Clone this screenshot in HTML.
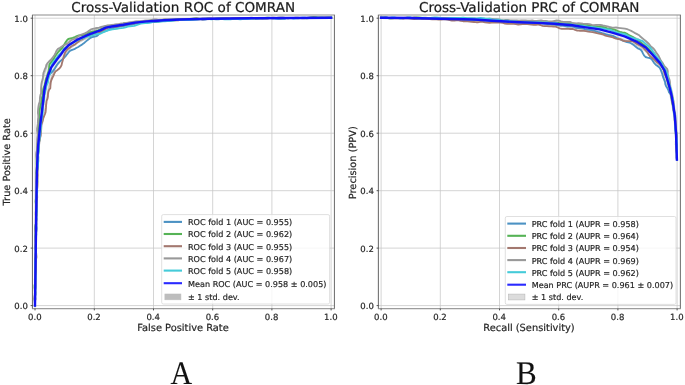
<!DOCTYPE html>
<html><head><meta charset="utf-8"><title>Cross-Validation ROC and PRC of COMRAN</title>
<style>html,body{margin:0;padding:0;background:#fff;}svg{display:block;}text{text-rendering:geometricPrecision;stroke:#262626;stroke-width:0.19px;}</style></head>
<body>
<svg width="685" height="385" viewBox="0 0 685 385">
<rect width="685" height="385" fill="#fff"/>
<line x1="35.0" y1="15.0" x2="35.0" y2="308.6" stroke="#c6c6c6" stroke-width="0.75"/>
<line x1="32.45" y1="305.6" x2="334.45" y2="305.6" stroke="#c6c6c6" stroke-width="0.75"/>
<line x1="94.3" y1="15.0" x2="94.3" y2="308.6" stroke="#c6c6c6" stroke-width="0.75"/>
<line x1="32.45" y1="248.1" x2="334.45" y2="248.1" stroke="#c6c6c6" stroke-width="0.75"/>
<line x1="153.5" y1="15.0" x2="153.5" y2="308.6" stroke="#c6c6c6" stroke-width="0.75"/>
<line x1="32.45" y1="190.7" x2="334.45" y2="190.7" stroke="#c6c6c6" stroke-width="0.75"/>
<line x1="212.7" y1="15.0" x2="212.7" y2="308.6" stroke="#c6c6c6" stroke-width="0.75"/>
<line x1="32.45" y1="133.2" x2="334.45" y2="133.2" stroke="#c6c6c6" stroke-width="0.75"/>
<line x1="271.9" y1="15.0" x2="271.9" y2="308.6" stroke="#c6c6c6" stroke-width="0.75"/>
<line x1="32.45" y1="75.7" x2="334.45" y2="75.7" stroke="#c6c6c6" stroke-width="0.75"/>
<line x1="331.1" y1="15.0" x2="331.1" y2="308.6" stroke="#c6c6c6" stroke-width="0.75"/>
<line x1="32.45" y1="18.2" x2="334.45" y2="18.2" stroke="#c6c6c6" stroke-width="0.75"/>
<g id="curves0" fill="none" stroke-linejoin="round" stroke-linecap="square">
<path d="M34.9,260.1 L35.4,220.1 L35.7,190.1 L36.1,170.1 L36.5,155.0 L36.9,145.0 L37.6,132.9 L38.1,124.9 L39.3,109.8 L40.2,96.7 L40.8,89.6 L42.0,83.1 L44.4,74.0 L47.5,65.6 L53.7,57.1 L57.4,52.8 L61.0,47.7 L66.3,42.3 L75.3,37.0 L87.5,32.2 L99.4,28.3 L105.1,25.6 L111.4,24.5 L123.1,22.9 L134.9,21.0 L146.7,20.0 L153.7,19.7 L164.2,19.1 L180.0,18.5 L210.0,18.1 L250.0,17.7 L331.1,17.4 L331.1,18.0 L250.0,18.7 L210.0,19.5 L180.0,20.5 L164.4,21.5 L153.9,22.3 L146.9,22.8 L135.3,24.2 L123.7,26.5 L112.0,28.5 L106.5,29.6 L101.0,32.3 L89.5,37.2 L78.3,42.8 L70.9,48.1 L66.8,52.5 L63.6,57.4 L60.1,61.9 L54.7,69.6 L51.8,76.4 L49.2,84.9 L48.0,90.6 L47.0,97.5 L44.9,110.4 L42.3,125.3 L41.2,133.3 L39.5,145.2 L38.7,155.2 L38.0,170.1 L37.5,190.1 L36.9,220.1 L36.3,260.1Z" fill="#808080" fill-opacity="0.14" stroke="#8c8c8c" stroke-opacity="0.55" stroke-width="0.8" stroke-linecap="butt"/>
<path d="M35.0,305.6 L35.0,303.4 L35.0,301.2 L34.8,298.9 L35.1,296.7 L35.5,294.5 L35.4,292.3 L35.3,290.1 L35.5,287.9 L35.6,285.7 L35.1,283.4 L35.2,281.2 L35.5,279.0 L35.5,276.8 L35.2,274.6 L35.1,272.3 L35.4,270.1 L35.4,267.9 L35.3,265.7 L35.2,263.5 L35.7,261.3 L36.0,259.1 L35.9,256.8 L35.7,254.6 L35.8,252.4 L35.8,250.2 L35.8,248.0 L35.7,245.7 L35.7,243.5 L35.6,241.3 L35.7,239.1 L35.6,236.9 L35.8,234.7 L36.2,232.4 L36.6,230.2 L36.7,228.0 L36.4,225.8 L36.4,223.6 L36.3,221.4 L36.4,219.1 L36.0,216.9 L36.2,214.7 L36.2,212.5 L36.4,210.3 L36.2,208.1 L36.5,205.8 L36.3,203.6 L36.5,201.4 L36.7,199.2 L37.0,197.0 L37.1,194.8 L36.8,192.5 L36.9,190.3 L36.9,188.1 L36.9,185.9 L36.4,183.7 L36.4,181.4 L36.6,179.2 L37.0,177.0 L37.1,174.8 L37.1,172.6 L37.0,170.4 L37.1,168.2 L37.7,166.0 L37.9,163.8 L38.2,161.5 L38.3,159.3 L38.3,157.1 L38.0,154.9 L38.2,152.7 L38.4,150.5 L38.7,148.3 L38.6,146.0 L38.7,143.8 L39.0,141.6 L39.2,139.4 L39.0,137.2 L38.8,134.9 L39.3,132.7 L39.7,130.5 L40.0,128.4 L40.2,126.1 L40.6,124.0 L41.0,121.8 L41.5,119.6 L41.8,117.4 L42.1,115.2 L42.1,113.0 L42.2,110.8 L42.4,108.5 L42.8,106.4 L43.4,104.2 L43.5,102.0 L43.6,99.8 L43.8,97.6 L44.1,95.3 L44.4,93.1 L45.0,91.0 L45.7,88.9 L46.0,86.7 L46.2,84.4 L46.9,82.3 L47.7,80.3 L48.3,78.1 L48.5,75.8 L49.8,74.0 L51.5,72.5 L53.1,70.9 L54.4,69.1 L55.5,67.2 L56.7,65.3 L58.0,63.5 L59.5,61.9 L61.2,60.4 L62.9,59.0 L64.4,57.4 L65.9,55.8 L67.3,54.0 L68.7,52.2 L70.3,50.7 L72.2,49.8 L74.3,49.2 L76.2,48.0 L78.2,47.0 L80.1,45.8 L82.0,44.6 L83.8,43.3 L85.4,41.9 L87.1,40.4 L88.9,39.1 L90.6,37.8 L92.5,37.0 L94.6,36.6 L96.8,36.0 L98.4,34.7 L99.9,33.0 L101.8,31.9 L104.1,31.6 L106.2,30.8 L108.2,29.9 L110.2,28.9 L112.4,28.4 L114.5,27.7 L116.7,27.2 L118.8,26.6 L121.1,26.4 L123.3,26.1 L125.4,25.6 L127.6,25.2 L129.8,24.8 L132.0,24.6 L134.1,24.0 L136.3,23.4 L138.5,23.1 L140.7,22.8 L142.9,22.6 L145.1,22.1 L147.3,22.1 L149.5,22.1 L151.7,22.0 L153.9,22.0 L156.2,22.0 L158.4,21.8 L160.6,21.2 L162.7,20.7 L165.0,20.6 L167.2,20.8 L169.4,20.5 L171.6,20.2 L173.8,19.8 L176.0,19.6 L178.2,19.5 L180.4,19.4 L182.7,19.4 L184.9,19.7 L187.1,19.8 L189.3,19.8 L191.5,19.6 L193.8,19.6 L196.0,19.4 L198.2,19.1 L200.4,19.2 L202.6,19.5 L204.8,19.5 L207.1,19.0 L209.3,18.7 L211.5,18.9 L213.7,19.2 L215.9,19.3 L218.1,19.4 L220.4,19.1 L222.6,19.1 L224.8,19.1 L227.0,19.1 L229.2,18.9 L231.4,18.7 L233.7,18.4 L235.9,18.3 L238.1,18.7 L240.3,18.7 L242.5,18.3 L244.7,18.1 L246.9,18.1 L249.2,18.2 L251.4,18.3 L253.6,18.3 L255.8,18.0 L258.0,17.9 L260.3,18.0 L262.5,18.3 L264.7,18.1 L266.9,17.8 L269.1,17.7 L271.3,17.8 L273.6,18.1 L275.8,18.3 L278.0,18.8 L280.2,18.8 L282.4,18.7 L284.6,18.6 L286.9,18.2 L289.1,17.9 L291.3,18.0 L293.5,18.1 L295.7,18.0 L297.9,18.1 L300.2,18.1 L302.4,18.0 L304.6,17.8 L306.8,17.9 L309.0,17.7 L311.2,17.5 L313.5,17.4 L315.7,17.6 L317.9,17.9 L320.1,18.1 L322.3,18.1 L324.5,17.9 L326.8,17.6 L329.0,17.7 L331.2,17.7" stroke="#4c92c3" stroke-width="1.85"/>
<path d="M34.9,305.6 L34.9,303.4 L35.1,301.2 L34.9,299.0 L35.0,296.8 L35.3,294.6 L35.4,292.3 L35.1,290.1 L34.6,287.9 L34.5,285.7 L35.0,283.5 L35.1,281.3 L35.0,279.1 L35.0,276.9 L35.2,274.7 L35.6,272.5 L35.8,270.2 L36.0,268.0 L35.9,265.8 L35.6,263.6 L35.2,261.4 L35.2,259.2 L35.5,257.0 L35.9,254.8 L36.1,252.6 L35.9,250.4 L35.6,248.1 L35.7,245.9 L35.9,243.7 L36.0,241.5 L35.6,239.3 L35.4,237.1 L35.4,234.9 L35.6,232.7 L35.5,230.5 L35.3,228.2 L35.4,226.0 L35.9,223.8 L36.1,221.6 L36.1,219.4 L36.2,217.2 L36.6,215.0 L36.5,212.8 L36.7,210.6 L36.6,208.4 L36.4,206.1 L35.9,203.9 L35.6,201.7 L35.8,199.5 L36.0,197.3 L36.3,195.1 L36.6,192.9 L36.7,190.7 L36.5,188.5 L36.6,186.3 L36.9,184.1 L37.0,181.8 L36.8,179.6 L36.5,177.4 L36.5,175.2 L36.2,173.0 L36.4,170.8 L36.7,168.6 L36.9,166.4 L36.6,164.1 L36.6,161.9 L36.6,159.7 L36.7,157.5 L36.7,155.3 L36.9,153.1 L37.0,150.9 L37.1,148.7 L37.2,146.5 L37.5,144.3 L37.9,142.1 L38.0,139.9 L38.5,137.7 L38.8,135.5 L38.9,133.3 L38.7,131.1 L38.6,128.8 L38.7,126.6 L38.9,124.4 L39.2,122.2 L39.7,120.0 L39.6,117.8 L39.4,115.6 L39.3,113.4 L39.5,111.1 L39.9,109.0 L40.2,106.8 L40.9,104.6 L41.2,102.5 L41.6,100.3 L41.9,98.1 L42.4,95.9 L42.7,93.7 L42.9,91.5 L43.2,89.3 L43.8,87.2 L44.7,85.1 L45.1,83.0 L45.5,80.8 L46.0,78.6 L46.9,76.6 L47.5,74.4 L48.2,72.4 L48.7,70.2 L49.1,68.0 L49.2,65.7 L49.9,63.6 L51.4,61.9 L52.8,60.2 L54.0,58.3 L55.1,56.3 L56.3,54.5 L57.6,52.7 L59.1,51.0 L60.6,49.5 L62.2,47.9 L63.4,46.0 L64.5,44.1 L65.6,42.3 L66.8,40.4 L68.3,39.0 L70.5,38.4 L72.6,37.8 L74.7,37.0 L76.8,36.1 L78.8,35.4 L81.1,35.3 L83.3,34.8 L85.4,34.3 L87.4,33.2 L89.5,32.5 L91.6,31.8 L93.8,31.5 L95.9,31.0 L98.1,30.4 L100.1,29.5 L102.0,28.5 L104.1,27.7 L106.3,27.1 L108.5,26.8 L110.6,26.3 L112.8,25.8 L115.0,25.8 L117.2,25.7 L119.4,25.2 L121.5,24.3 L123.6,23.5 L125.8,23.4 L128.1,23.6 L130.3,23.5 L132.4,22.8 L134.6,22.1 L136.8,22.2 L139.0,22.3 L141.2,22.0 L143.4,21.8 L145.6,21.3 L147.8,20.9 L150.0,20.6 L152.2,21.0 L154.4,20.9 L156.6,20.3 L158.8,20.0 L161.0,20.2 L163.2,20.0 L165.4,19.8 L167.7,20.1 L169.9,20.2 L172.1,20.0 L174.3,19.6 L176.5,19.3 L178.7,19.1 L180.9,19.4 L183.1,19.8 L185.3,19.6 L187.5,19.5 L189.7,19.1 L192.0,18.9 L194.2,18.5 L196.4,18.5 L198.6,18.7 L200.8,19.1 L203.0,19.0 L205.2,18.8 L207.4,18.5 L209.6,18.8 L211.9,18.9 L214.1,18.9 L216.3,18.7 L218.5,18.5 L220.7,18.3 L222.9,18.2 L225.1,18.5 L227.3,19.0 L229.5,18.9 L231.7,19.0 L234.0,18.7 L236.2,18.5 L238.4,18.1 L240.6,18.1 L242.8,18.1 L245.0,17.9 L247.2,17.9 L249.4,17.8 L251.6,18.0 L253.8,18.3 L256.1,18.6 L258.3,18.4 L260.5,18.2 L262.7,18.0 L264.9,17.8 L267.1,17.6 L269.3,18.0 L271.5,18.2 L273.7,18.2 L275.9,17.8 L278.2,17.9 L280.4,18.1 L282.6,18.3 L284.8,18.1 L287.0,18.2 L289.2,18.2 L291.4,18.1 L293.6,17.9 L295.8,18.1 L298.0,18.3 L300.3,18.2 L302.5,18.0 L304.7,18.2 L306.9,18.3 L309.1,18.0 L311.3,17.4 L313.5,17.1 L315.7,17.1 L317.9,17.4 L320.1,17.4 L322.4,17.6 L324.6,17.6 L326.8,17.7 L329.0,17.7 L331.2,17.7" stroke="#56b356" stroke-width="1.85"/>
<path d="M35.0,305.6 L35.0,303.4 L35.0,301.2 L35.4,299.0 L35.2,296.8 L34.9,294.5 L34.9,292.3 L35.1,290.1 L35.4,287.9 L35.4,285.7 L35.6,283.5 L35.2,281.3 L34.8,279.1 L35.2,276.9 L35.6,274.7 L35.7,272.4 L35.5,270.2 L35.4,268.0 L35.6,265.8 L35.6,263.6 L35.9,261.4 L36.1,259.2 L36.5,257.0 L36.3,254.8 L36.1,252.6 L35.8,250.3 L35.6,248.1 L35.8,245.9 L35.8,243.7 L35.8,241.5 L35.8,239.3 L36.1,237.1 L36.0,234.9 L35.8,232.7 L35.6,230.4 L35.6,228.2 L35.6,226.0 L35.9,223.8 L36.2,221.6 L36.4,219.4 L36.2,217.2 L36.2,215.0 L36.1,212.8 L36.3,210.6 L36.3,208.3 L36.6,206.1 L36.7,203.9 L36.7,201.7 L36.9,199.5 L37.2,197.3 L37.1,195.1 L36.7,192.9 L36.8,190.7 L37.2,188.5 L37.4,186.3 L37.5,184.1 L37.5,181.8 L37.4,179.6 L37.5,177.4 L37.6,175.2 L37.4,173.0 L37.4,170.8 L37.8,168.6 L38.0,166.4 L37.8,164.2 L37.9,161.9 L38.1,159.7 L38.0,157.5 L38.0,155.3 L38.2,153.1 L38.6,150.9 L38.8,148.7 L38.9,146.5 L39.1,144.3 L39.2,142.1 L39.8,139.9 L40.1,137.7 L40.7,135.6 L40.8,133.4 L40.9,131.2 L40.8,128.9 L40.8,126.7 L41.3,124.5 L42.1,122.4 L42.8,120.3 L43.3,118.1 L44.1,116.1 L45.0,114.0 L45.6,111.9 L45.8,109.7 L46.0,107.4 L46.1,105.2 L46.4,103.0 L46.6,100.8 L47.5,98.7 L47.9,96.6 L48.0,94.3 L48.3,92.2 L49.0,90.0 L50.3,88.3 L50.4,86.0 L50.6,83.8 L50.9,81.6 L51.6,79.5 L52.5,77.5 L53.5,75.6 L54.3,73.5 L55.4,71.5 L57.2,70.2 L59.0,68.8 L60.5,67.1 L61.5,65.2 L62.0,63.1 L62.6,61.0 L63.2,58.8 L63.7,56.7 L64.4,54.6 L65.1,52.5 L66.3,50.7 L67.8,49.1 L69.5,47.8 L71.2,46.5 L73.1,45.3 L75.1,44.3 L76.8,42.9 L78.5,41.5 L80.2,40.0 L82.3,39.3 L84.2,38.1 L86.1,37.0 L88.1,36.1 L90.3,35.6 L92.4,34.9 L94.4,34.1 L96.6,33.5 L98.7,32.9 L100.7,31.9 L102.6,30.7 L104.5,29.5 L106.4,28.4 L108.4,27.4 L110.5,26.6 L112.8,26.6 L115.0,26.7 L117.3,26.6 L119.4,26.1 L121.6,25.6 L123.7,25.1 L125.9,24.6 L128.0,24.1 L130.2,23.6 L132.4,23.6 L134.6,23.2 L136.8,22.9 L139.0,22.6 L141.2,22.6 L143.4,22.1 L145.6,21.7 L147.8,21.7 L150.0,21.7 L152.2,21.4 L154.4,21.4 L156.6,21.4 L158.8,21.0 L161.0,20.4 L163.2,20.1 L165.4,20.4 L167.7,20.7 L169.9,20.7 L172.1,20.3 L174.3,20.2 L176.5,20.2 L178.7,20.2 L180.9,19.6 L183.1,19.1 L185.3,18.9 L187.5,19.1 L189.7,19.5 L191.9,19.4 L194.1,19.0 L196.3,18.5 L198.6,19.0 L200.8,19.1 L203.0,19.3 L205.2,18.9 L207.4,18.8 L209.6,18.4 L211.8,18.5 L214.0,18.6 L216.3,18.6 L218.5,18.6 L220.7,18.7 L222.9,18.6 L225.1,18.4 L227.3,18.5 L229.5,18.6 L231.7,18.4 L233.9,17.9 L236.1,17.8 L238.3,17.9 L240.6,17.9 L242.8,18.1 L245.0,18.6 L247.2,18.7 L249.4,18.3 L251.6,18.3 L253.8,18.5 L256.0,18.4 L258.3,18.3 L260.5,18.5 L262.7,18.7 L264.9,18.5 L267.1,18.5 L269.3,18.2 L271.5,18.0 L273.7,17.7 L275.9,17.9 L278.1,18.2 L280.4,18.3 L282.6,18.2 L284.8,18.1 L287.0,18.0 L289.2,18.0 L291.4,18.2 L293.6,18.1 L295.8,17.8 L298.0,17.8 L300.3,18.0 L302.5,18.2 L304.7,18.1 L306.9,18.2 L309.1,17.8 L311.3,17.9 L313.5,17.7 L315.7,17.8 L317.9,17.9 L320.1,18.1 L322.4,18.2 L324.6,17.9 L326.8,17.9 L329.0,17.7 L331.2,17.7" stroke="#a3786f" stroke-width="1.85"/>
<path d="M34.9,305.6 L34.9,303.4 L34.6,301.2 L34.2,298.9 L34.4,296.7 L34.8,294.5 L34.9,292.3 L34.7,290.1 L34.7,287.9 L35.1,285.7 L35.5,283.4 L35.8,281.2 L35.4,279.0 L35.3,276.8 L35.0,274.6 L35.3,272.4 L35.4,270.1 L35.8,267.9 L35.8,265.7 L35.5,263.5 L35.3,261.3 L35.5,259.1 L35.5,256.8 L35.5,254.6 L35.8,252.4 L36.0,250.2 L35.5,248.0 L35.5,245.8 L35.6,243.5 L35.5,241.3 L35.5,239.1 L35.7,236.9 L35.8,234.7 L35.7,232.5 L35.5,230.2 L35.7,228.0 L36.1,225.8 L36.2,223.6 L35.9,221.4 L36.0,219.2 L36.1,216.9 L35.7,214.7 L35.7,212.5 L36.0,210.3 L36.3,208.1 L36.3,205.9 L36.3,203.6 L36.0,201.4 L36.2,199.2 L36.3,197.0 L36.3,194.8 L36.3,192.6 L36.7,190.3 L36.9,188.1 L36.9,185.9 L36.6,183.7 L36.2,181.5 L36.3,179.3 L36.6,177.0 L36.6,174.8 L36.7,172.6 L36.7,170.4 L36.7,168.2 L36.8,166.0 L37.2,163.7 L37.2,161.5 L36.8,159.3 L36.4,157.1 L36.2,154.9 L36.3,152.7 L36.9,150.4 L37.0,148.2 L37.0,146.0 L37.1,143.8 L37.2,141.6 L37.2,139.4 L37.4,137.1 L37.6,134.9 L37.4,132.7 L37.1,130.5 L37.1,128.3 L37.5,126.1 L37.8,123.9 L37.9,121.6 L38.0,119.4 L38.3,117.2 L38.2,115.0 L37.9,112.8 L38.0,110.6 L38.2,108.3 L38.5,106.1 L38.9,104.0 L39.7,101.8 L39.9,99.6 L40.0,97.4 L40.4,95.2 L41.2,93.1 L41.2,90.8 L41.1,88.6 L41.2,86.4 L41.4,84.2 L41.8,82.0 L42.5,79.8 L42.9,77.7 L43.1,75.5 L43.4,73.2 L44.2,71.2 L44.9,69.1 L45.9,67.1 L46.3,65.0 L47.5,63.2 L49.0,61.5 L50.6,60.0 L52.0,58.3 L53.4,56.5 L54.7,54.7 L55.7,52.7 L56.6,50.6 L58.0,48.9 L60.0,47.8 L61.8,46.6 L63.6,45.3 L65.6,44.3 L67.7,43.4 L69.4,42.0 L71.0,40.4 L72.9,39.3 L75.1,38.6 L77.0,37.4 L78.7,36.0 L80.6,34.9 L82.7,34.2 L84.8,33.4 L86.8,32.4 L88.6,31.1 L90.5,29.7 L92.6,28.9 L94.7,28.5 L96.9,28.0 L99.1,27.6 L101.2,27.0 L103.4,26.4 L105.5,25.8 L107.7,25.5 L109.9,25.3 L112.1,24.9 L114.3,24.7 L116.5,24.3 L118.7,24.1 L120.9,23.6 L123.1,23.4 L125.2,23.0 L127.5,22.8 L129.6,22.4 L131.8,22.1 L134.0,21.8 L136.2,21.5 L138.4,21.4 L140.7,21.5 L142.8,21.1 L145.0,20.7 L147.3,20.6 L149.5,20.5 L151.7,20.0 L153.9,19.5 L156.1,19.5 L158.3,19.9 L160.5,19.8 L162.7,19.7 L164.9,19.2 L167.2,19.3 L169.4,19.5 L171.6,19.5 L173.8,19.5 L176.0,19.2 L178.3,19.3 L180.5,19.3 L182.7,19.6 L184.9,19.4 L187.1,19.2 L189.3,19.0 L191.5,18.7 L193.8,18.7 L196.0,19.1 L198.2,19.3 L200.4,19.0 L202.6,18.5 L204.8,18.5 L207.1,18.7 L209.3,19.0 L211.5,19.0 L213.7,19.0 L215.9,18.7 L218.2,18.7 L220.4,18.5 L222.6,18.3 L224.8,17.9 L227.0,18.2 L229.2,18.6 L231.5,18.5 L233.7,18.4 L235.9,18.4 L238.1,18.6 L240.3,18.5 L242.5,18.3 L244.7,18.2 L247.0,18.0 L249.2,17.9 L251.4,17.6 L253.6,18.0 L255.8,18.1 L258.0,18.2 L260.3,17.9 L262.5,18.1 L264.7,18.0 L266.9,18.1 L269.1,17.9 L271.3,18.1 L273.6,18.4 L275.8,18.2 L278.0,17.7 L280.2,17.3 L282.4,17.3 L284.6,17.7 L286.9,17.8 L289.1,18.0 L291.3,18.0 L293.5,18.0 L295.7,17.7 L297.9,17.7 L300.2,18.1 L302.4,18.4 L304.6,18.3 L306.8,17.9 L309.0,17.7 L311.2,17.7 L313.5,18.0 L315.7,18.0 L317.9,18.0 L320.1,17.7 L322.3,17.4 L324.5,17.3 L326.8,17.4 L329.0,17.7 L331.2,17.7" stroke="#999999" stroke-width="1.85"/>
<path d="M35.0,305.6 L35.0,303.4 L34.9,301.2 L35.3,299.0 L35.2,296.7 L34.9,294.5 L35.0,292.3 L35.3,290.1 L35.4,287.9 L35.3,285.6 L35.3,283.4 L35.2,281.2 L35.7,279.0 L35.6,276.8 L35.7,274.6 L35.3,272.3 L35.4,270.1 L35.2,267.9 L35.3,265.7 L35.1,263.5 L35.4,261.3 L35.8,259.0 L36.0,256.8 L35.7,254.6 L35.8,252.4 L35.7,250.2 L35.7,248.0 L35.8,245.7 L36.1,243.5 L36.0,241.3 L36.0,239.1 L35.9,236.9 L36.3,234.7 L36.1,232.4 L36.0,230.2 L35.8,228.0 L35.8,225.8 L35.9,223.6 L36.1,221.3 L36.5,219.1 L36.4,216.9 L36.3,214.7 L36.5,212.5 L36.8,210.3 L36.5,208.0 L36.3,205.8 L36.4,203.6 L36.5,201.4 L36.1,199.2 L36.3,197.0 L36.7,194.7 L37.2,192.5 L37.2,190.3 L36.9,188.1 L36.7,185.9 L37.0,183.7 L37.4,181.5 L37.3,179.2 L37.0,177.0 L37.0,174.8 L37.0,172.6 L37.3,170.4 L37.6,168.2 L37.9,165.9 L38.1,163.7 L38.2,161.5 L38.1,159.3 L37.9,157.1 L38.2,154.9 L38.5,152.7 L39.0,150.5 L38.9,148.2 L38.9,146.0 L38.8,143.8 L39.2,141.6 L39.5,139.4 L39.8,137.2 L40.1,135.0 L40.3,132.8 L40.6,130.6 L40.9,128.4 L40.9,126.2 L41.1,124.0 L41.2,121.7 L41.6,119.6 L41.9,117.4 L42.4,115.2 L42.7,113.0 L42.7,110.8 L42.8,108.5 L42.6,106.3 L42.8,104.1 L43.4,101.9 L44.0,99.8 L44.2,97.5 L44.3,95.3 L44.8,93.1 L45.3,91.0 L45.5,88.8 L46.1,86.6 L46.9,84.5 L47.9,82.5 L48.1,80.3 L48.5,78.1 L49.1,75.9 L49.9,73.9 L50.5,71.7 L51.0,69.6 L51.2,67.4 L51.7,65.2 L52.5,63.1 L53.9,61.3 L55.3,59.6 L56.7,57.9 L57.9,56.0 L59.4,54.3 L61.0,52.8 L62.4,51.1 L63.6,49.2 L65.4,47.8 L67.4,46.7 L69.0,45.2 L70.7,43.8 L72.7,42.8 L74.7,41.9 L76.6,40.8 L78.5,39.7 L80.7,39.0 L82.7,38.2 L84.8,37.5 L86.9,36.6 L89.1,36.3 L91.2,35.9 L93.3,35.2 L95.4,34.4 L97.6,34.0 L99.9,33.8 L101.9,32.9 L103.9,31.9 L106.0,31.1 L108.1,30.3 L110.2,29.8 L112.4,29.3 L114.6,29.2 L116.8,28.8 L119.0,28.4 L121.2,28.2 L123.4,27.9 L125.6,27.4 L127.7,26.7 L129.9,26.3 L132.1,26.1 L134.3,25.9 L136.4,25.1 L138.6,24.4 L140.7,23.7 L142.9,23.3 L145.1,23.0 L147.3,23.1 L149.5,22.9 L151.7,22.3 L153.9,21.7 L156.1,21.6 L158.3,21.6 L160.6,21.7 L162.8,21.4 L165.0,21.3 L167.2,21.1 L169.4,21.2 L171.6,20.9 L173.8,20.7 L176.0,20.1 L178.2,20.0 L180.4,19.9 L182.6,19.9 L184.9,20.0 L187.1,20.1 L189.3,20.1 L191.5,19.9 L193.7,19.7 L196.0,19.6 L198.2,19.3 L200.4,19.1 L202.6,19.1 L204.8,19.0 L207.0,19.0 L209.2,19.1 L211.5,19.3 L213.7,19.0 L215.9,18.8 L218.1,18.7 L220.3,18.8 L222.6,19.0 L224.8,19.3 L227.0,19.3 L229.2,19.2 L231.4,19.2 L233.6,18.9 L235.9,18.9 L238.1,19.0 L240.3,19.3 L242.5,19.1 L244.7,19.0 L246.9,19.0 L249.2,18.9 L251.4,18.6 L253.6,18.5 L255.8,18.4 L258.0,18.6 L260.2,18.3 L262.5,18.3 L264.7,18.1 L266.9,18.3 L269.1,18.1 L271.3,18.1 L273.5,18.2 L275.8,18.6 L278.0,18.4 L280.2,18.3 L282.4,18.4 L284.6,18.5 L286.9,17.9 L289.1,17.9 L291.3,18.2 L293.5,18.6 L295.7,18.4 L297.9,18.2 L300.2,17.8 L302.4,17.7 L304.6,17.7 L306.8,17.8 L309.0,17.8 L311.2,18.0 L313.5,18.0 L315.7,18.1 L317.9,17.8 L320.1,17.8 L322.3,17.7 L324.6,18.1 L326.8,17.9 L329.0,17.7 L331.2,17.7" stroke="#45cbd9" stroke-width="1.85"/>
<path d="M35.0,305.6 L35.6,260.1 L36.1,220.1 L36.6,190.1 L37.0,170.1 L37.6,155.1 L38.2,145.1 L39.4,133.1 L40.2,125.1 L42.1,110.1 L43.6,97.1 L44.4,90.1 L45.6,84.0 L48.1,75.2 L51.1,67.6 L56.9,59.5 L60.5,55.1 L63.9,50.1 L68.6,45.2 L76.8,39.9 L88.5,34.7 L100.2,30.3 L105.8,27.6 L111.7,26.5 L123.4,24.7 L135.1,22.6 L146.8,21.4 L153.8,21.0 L164.3,20.3 L180.0,19.5 L210.0,18.8 L250.0,18.2 L331.1,17.7" stroke="#1212f4" stroke-width="2.4"/>
</g>
<line x1="31.950000000000003" y1="15.0" x2="334.95" y2="15.0" stroke="#8c8c8c" stroke-width="1.1"/>
<line x1="31.950000000000003" y1="308.6" x2="334.95" y2="308.6" stroke="#9c9c9c" stroke-width="1.15"/>
<line x1="32.45" y1="15.0" x2="32.45" y2="308.6" stroke="#727272" stroke-width="1.1"/>
<line x1="334.45" y1="15.0" x2="334.45" y2="308.6" stroke="#777" stroke-width="1.1"/>
<line x1="35.0" y1="308.6" x2="35.0" y2="310.40000000000003" stroke="#2a2a2a" stroke-width="0.8"/>
<line x1="30.650000000000002" y1="305.6" x2="32.45" y2="305.6" stroke="#2a2a2a" stroke-width="0.8"/>
<text x="34.8" y="319.7" text-anchor="middle" font-family="DejaVu Sans, Liberation Sans, sans-serif" font-size="8.5" fill="#262626">0.0</text>
<text x="27.85" y="309.3" text-anchor="end" font-family="DejaVu Sans, Liberation Sans, sans-serif" font-size="8.5" fill="#262626">0.0</text>
<line x1="94.3" y1="308.6" x2="94.3" y2="310.40000000000003" stroke="#2a2a2a" stroke-width="0.8"/>
<line x1="30.650000000000002" y1="248.1" x2="32.45" y2="248.1" stroke="#2a2a2a" stroke-width="0.8"/>
<text x="94.0" y="319.7" text-anchor="middle" font-family="DejaVu Sans, Liberation Sans, sans-serif" font-size="8.5" fill="#262626">0.2</text>
<text x="27.85" y="251.8" text-anchor="end" font-family="DejaVu Sans, Liberation Sans, sans-serif" font-size="8.5" fill="#262626">0.2</text>
<line x1="153.5" y1="308.6" x2="153.5" y2="310.40000000000003" stroke="#2a2a2a" stroke-width="0.8"/>
<line x1="30.650000000000002" y1="190.7" x2="32.45" y2="190.7" stroke="#2a2a2a" stroke-width="0.8"/>
<text x="153.2" y="319.7" text-anchor="middle" font-family="DejaVu Sans, Liberation Sans, sans-serif" font-size="8.5" fill="#262626">0.4</text>
<text x="27.85" y="194.4" text-anchor="end" font-family="DejaVu Sans, Liberation Sans, sans-serif" font-size="8.5" fill="#262626">0.4</text>
<line x1="212.7" y1="308.6" x2="212.7" y2="310.40000000000003" stroke="#2a2a2a" stroke-width="0.8"/>
<line x1="30.650000000000002" y1="133.2" x2="32.45" y2="133.2" stroke="#2a2a2a" stroke-width="0.8"/>
<text x="212.4" y="319.7" text-anchor="middle" font-family="DejaVu Sans, Liberation Sans, sans-serif" font-size="8.5" fill="#262626">0.6</text>
<text x="27.85" y="136.9" text-anchor="end" font-family="DejaVu Sans, Liberation Sans, sans-serif" font-size="8.5" fill="#262626">0.6</text>
<line x1="271.9" y1="308.6" x2="271.9" y2="310.40000000000003" stroke="#2a2a2a" stroke-width="0.8"/>
<line x1="30.650000000000002" y1="75.7" x2="32.45" y2="75.7" stroke="#2a2a2a" stroke-width="0.8"/>
<text x="271.6" y="319.7" text-anchor="middle" font-family="DejaVu Sans, Liberation Sans, sans-serif" font-size="8.5" fill="#262626">0.8</text>
<text x="27.85" y="79.4" text-anchor="end" font-family="DejaVu Sans, Liberation Sans, sans-serif" font-size="8.5" fill="#262626">0.8</text>
<line x1="331.1" y1="308.6" x2="331.1" y2="310.40000000000003" stroke="#2a2a2a" stroke-width="0.8"/>
<line x1="30.650000000000002" y1="18.2" x2="32.45" y2="18.2" stroke="#2a2a2a" stroke-width="0.8"/>
<text x="330.8" y="319.7" text-anchor="middle" font-family="DejaVu Sans, Liberation Sans, sans-serif" font-size="8.5" fill="#262626">1.0</text>
<text x="27.85" y="21.9" text-anchor="end" font-family="DejaVu Sans, Liberation Sans, sans-serif" font-size="8.5" fill="#262626">1.0</text>
<text x="183.2" y="11.8" text-anchor="middle" font-family="DejaVu Sans, Liberation Sans, sans-serif" font-size="13.56" fill="#1c1c1c" style="stroke:#1c1c1c;stroke-width:0.22px">Cross-Validation ROC of COMRAN</text>
<text x="183.0" y="330.5" text-anchor="middle" font-family="DejaVu Sans, Liberation Sans, sans-serif" font-size="9.85" fill="#262626">False Positive Rate</text>
<text transform="translate(9.9,161.8) rotate(-90)" text-anchor="middle" font-family="DejaVu Sans, Liberation Sans, sans-serif" font-size="9.8" fill="#262626">True Positive Rate</text>
<line x1="381.1" y1="15.0" x2="381.1" y2="308.6" stroke="#c6c6c6" stroke-width="0.75"/>
<line x1="378.4" y1="305.6" x2="680.4" y2="305.6" stroke="#c6c6c6" stroke-width="0.75"/>
<line x1="440.3" y1="15.0" x2="440.3" y2="308.6" stroke="#c6c6c6" stroke-width="0.75"/>
<line x1="378.4" y1="248.1" x2="680.4" y2="248.1" stroke="#c6c6c6" stroke-width="0.75"/>
<line x1="499.5" y1="15.0" x2="499.5" y2="308.6" stroke="#c6c6c6" stroke-width="0.75"/>
<line x1="378.4" y1="190.7" x2="680.4" y2="190.7" stroke="#c6c6c6" stroke-width="0.75"/>
<line x1="558.7" y1="15.0" x2="558.7" y2="308.6" stroke="#c6c6c6" stroke-width="0.75"/>
<line x1="378.4" y1="133.2" x2="680.4" y2="133.2" stroke="#c6c6c6" stroke-width="0.75"/>
<line x1="617.9" y1="15.0" x2="617.9" y2="308.6" stroke="#c6c6c6" stroke-width="0.75"/>
<line x1="378.4" y1="75.7" x2="680.4" y2="75.7" stroke="#c6c6c6" stroke-width="0.75"/>
<line x1="677.1" y1="15.0" x2="677.1" y2="308.6" stroke="#c6c6c6" stroke-width="0.75"/>
<line x1="378.4" y1="18.2" x2="680.4" y2="18.2" stroke="#c6c6c6" stroke-width="0.75"/>
<g id="curves1" fill="none" stroke-linejoin="round" stroke-linecap="square">
<path d="M381.1,17.4 L409.7,17.5 L440.1,17.9 L474.7,18.4 L492.4,19.5 L519.8,20.8 L537.3,21.1 L554.9,21.7 L572.6,22.9 L584.4,24.4 L600.3,26.5 L613.0,29.6 L625.7,33.3 L638.7,38.9 L647.9,45.0 L655.1,53.1 L662.1,61.2 L666.6,69.8 L668.9,77.9 L671.0,85.9 L673.1,95.3 L674.5,104.7 L675.8,115.0 L676.8,132.7 L677.3,159.6 L676.5,159.6 L675.2,132.7 L673.6,115.2 L671.9,105.1 L670.1,95.9 L667.6,86.7 L665.1,79.1 L662.6,71.6 L657.7,64.6 L650.7,57.1 L643.7,50.0 L635.5,44.9 L623.5,39.3 L611.4,35.6 L599.1,32.3 L583.6,29.8 L572.0,27.7 L554.7,25.9 L537.1,24.7 L519.6,23.8 L492.2,22.1 L474.7,20.6 L440.1,19.5 L409.7,18.5 L381.1,18.0Z" fill="#808080" fill-opacity="0.12" stroke="#8c8c8c" stroke-opacity="0.5" stroke-width="0.8" stroke-linecap="butt"/>
<path d="M381.1,17.7 L383.3,17.7 L385.6,17.1 L387.8,17.6 L390.0,17.9 L392.2,18.1 L394.4,17.9 L396.6,17.9 L398.9,18.1 L401.1,18.3 L403.3,18.3 L405.5,17.9 L407.7,17.7 L410.0,17.7 L412.2,18.1 L414.4,18.7 L416.6,18.8 L418.8,18.6 L421.0,18.7 L423.3,18.7 L425.5,18.3 L427.7,18.1 L429.9,18.6 L432.1,18.8 L434.4,18.8 L436.6,18.7 L438.8,18.7 L441.0,18.7 L443.2,18.9 L445.5,19.1 L447.7,19.0 L449.9,19.2 L452.1,19.6 L454.3,19.7 L456.6,19.5 L458.8,19.4 L461.0,19.7 L463.2,19.8 L465.4,19.9 L467.6,19.9 L469.9,19.8 L472.1,19.8 L474.3,20.0 L476.5,20.3 L478.7,20.4 L480.9,20.6 L483.2,20.7 L485.4,20.6 L487.6,20.8 L489.8,21.0 L492.0,21.2 L494.2,21.1 L496.5,21.1 L498.7,21.1 L500.9,21.3 L503.1,21.5 L505.3,21.7 L507.5,21.9 L509.7,22.2 L512.0,22.4 L514.2,22.7 L516.4,22.8 L518.6,22.8 L520.8,22.5 L523.1,22.7 L525.3,23.0 L527.5,23.4 L529.7,23.4 L531.9,23.6 L534.1,23.7 L536.4,23.5 L538.6,23.1 L540.8,23.1 L543.0,23.6 L545.2,23.9 L547.4,24.2 L549.7,24.2 L551.9,24.5 L554.1,24.7 L556.3,25.1 L558.5,25.2 L560.7,25.5 L562.9,25.7 L565.1,26.2 L567.3,26.5 L569.5,26.3 L571.7,26.4 L573.9,26.9 L576.0,27.8 L578.2,28.0 L580.5,27.9 L582.7,28.3 L584.8,29.2 L586.9,29.7 L589.2,29.9 L591.4,30.1 L593.5,30.7 L595.7,31.2 L597.8,31.9 L600.0,32.4 L602.1,33.1 L604.2,33.7 L606.3,34.5 L608.5,35.0 L610.7,35.3 L612.8,35.9 L614.8,36.9 L616.8,38.0 L618.8,38.9 L620.9,39.6 L622.9,40.6 L624.9,41.4 L627.0,42.2 L629.3,42.5 L631.3,43.5 L633.2,44.6 L634.9,46.0 L636.7,47.4 L638.4,48.7 L640.6,49.6 L642.0,51.3 L642.9,53.4 L644.0,55.3 L645.5,57.0 L647.5,57.6 L649.7,58.0 L651.7,59.3 L653.0,61.2 L654.2,63.1 L655.7,64.7 L657.5,66.0 L659.4,67.4 L660.5,69.3 L661.3,71.4 L662.1,73.5 L662.7,75.6 L663.3,77.7 L664.2,79.8 L665.0,81.9 L665.3,84.1 L666.1,86.2 L667.3,88.1 L668.3,90.1 L668.9,92.1 L670.2,93.8 L671.4,95.6 L671.7,97.8 L672.3,99.9 L673.0,102.1 L673.3,104.3 L673.4,106.5 L673.5,108.7 L674.0,110.9 L674.6,113.0 L675.2,115.2 L675.4,117.4 L675.4,119.7 L675.1,121.9 L675.1,124.1 L675.3,126.4 L675.5,128.6 L675.7,130.8 L676.2,133.0 L676.5,135.2 L676.5,137.4 L676.5,139.6 L676.7,141.8 L677.0,144.0 L677.1,146.3 L676.8,148.5 L676.5,150.7 L676.7,152.9 L677.0,155.2 L676.8,157.4 L676.9,159.6" stroke="#4c92c3" stroke-width="1.85"/>
<path d="M381.1,17.7 L383.3,17.7 L385.5,17.9 L387.8,18.1 L390.0,18.5 L392.2,18.4 L394.4,18.1 L396.7,17.9 L398.9,17.8 L401.1,18.1 L403.3,17.9 L405.5,18.0 L407.8,18.1 L410.0,18.3 L412.2,17.9 L414.4,17.6 L416.7,17.4 L418.9,17.4 L421.1,17.7 L423.3,18.1 L425.5,18.2 L427.8,18.2 L430.0,18.1 L432.2,17.9 L434.4,17.7 L436.7,17.9 L438.9,18.4 L441.1,18.8 L443.3,18.9 L445.5,18.9 L447.7,18.8 L450.0,18.7 L452.2,18.8 L454.4,18.7 L456.6,18.6 L458.9,18.3 L461.1,18.6 L463.3,18.8 L465.5,18.9 L467.8,18.9 L470.0,19.1 L472.2,19.0 L474.4,18.9 L476.7,18.8 L478.9,19.1 L481.1,19.2 L483.3,19.3 L485.5,19.3 L487.8,19.4 L490.0,19.6 L492.2,20.0 L494.4,20.4 L496.6,20.5 L498.8,20.7 L501.0,20.8 L503.2,21.2 L505.5,21.1 L507.7,20.8 L509.9,20.8 L512.1,20.9 L514.4,21.0 L516.6,20.9 L518.8,21.3 L521.0,21.5 L523.2,21.5 L525.5,21.4 L527.7,21.6 L529.9,21.5 L532.1,21.5 L534.3,21.8 L536.5,22.3 L538.8,22.3 L541.0,22.1 L543.2,22.2 L545.4,22.7 L547.6,22.7 L549.9,22.5 L552.1,22.1 L554.3,22.4 L556.5,22.6 L558.8,23.0 L561.0,23.2 L563.2,23.5 L565.4,23.4 L567.6,23.4 L569.9,23.5 L572.1,23.6 L574.3,23.6 L576.5,23.9 L578.7,24.5 L580.9,24.8 L583.1,24.8 L585.3,24.9 L587.6,25.0 L589.8,25.4 L592.0,25.7 L594.1,26.3 L596.4,26.4 L598.6,26.7 L600.8,26.7 L603.0,27.0 L605.2,27.5 L607.3,28.4 L609.4,28.9 L611.7,28.8 L613.8,29.4 L615.9,30.2 L617.9,31.2 L620.1,31.8 L622.3,32.3 L624.5,32.6 L626.6,33.5 L628.4,34.8 L630.4,35.8 L632.4,36.8 L634.3,38.1 L636.1,39.3 L638.0,40.5 L639.9,41.6 L641.6,43.0 L643.3,44.4 L645.0,45.8 L646.8,47.2 L648.5,48.6 L650.0,50.3 L651.4,52.0 L653.0,53.5 L654.7,55.0 L655.9,56.9 L657.1,58.8 L658.4,60.6 L660.1,62.1 L661.6,63.8 L662.8,65.6 L663.5,67.8 L664.2,70.0 L664.9,72.0 L665.5,74.1 L666.3,76.2 L666.9,78.3 L667.5,80.5 L667.9,82.7 L668.5,84.8 L669.4,86.9 L670.0,89.0 L670.6,91.1 L670.9,93.3 L671.3,95.5 L671.4,97.8 L671.7,100.0 L672.2,102.1 L672.5,104.3 L673.1,106.5 L673.7,108.6 L674.1,110.8 L674.4,113.0 L674.7,115.2 L674.8,117.4 L674.7,119.7 L675.0,121.9 L675.3,124.1 L675.3,126.3 L675.6,128.5 L676.0,130.7 L676.4,132.9 L676.5,135.2 L676.4,137.4 L676.3,139.6 L676.0,141.8 L676.4,144.1 L676.8,146.3 L677.1,148.5 L676.7,150.7 L676.8,152.9 L676.7,155.2 L676.8,157.4 L676.9,159.6" stroke="#56b356" stroke-width="1.85"/>
<path d="M381.1,17.7 L383.3,17.8 L385.5,17.7 L387.7,17.8 L390.0,18.1 L392.2,18.4 L394.4,18.2 L396.6,18.3 L398.8,18.1 L401.0,18.4 L403.2,18.5 L405.5,18.4 L407.7,18.1 L409.9,18.3 L412.1,18.9 L414.3,19.0 L416.5,18.6 L418.8,18.3 L421.0,18.6 L423.2,18.9 L425.4,18.9 L427.6,18.9 L429.8,19.2 L432.0,19.3 L434.2,19.3 L436.4,19.4 L438.7,19.6 L440.9,19.6 L443.1,19.4 L445.3,19.3 L447.5,19.5 L449.7,20.1 L451.9,20.6 L454.1,20.7 L456.4,20.3 L458.6,20.3 L460.8,20.8 L463.0,21.2 L465.2,21.2 L467.4,21.3 L469.6,21.6 L471.8,21.9 L474.0,22.0 L476.2,22.2 L478.4,22.2 L480.7,21.8 L482.9,21.9 L485.1,22.4 L487.3,22.7 L489.5,22.8 L491.7,22.6 L493.9,22.6 L496.2,22.6 L498.4,22.6 L500.6,22.6 L502.8,22.9 L505.0,23.5 L507.2,23.8 L509.4,23.8 L511.6,23.5 L513.8,23.8 L516.0,24.1 L518.2,24.5 L520.5,24.3 L522.7,24.0 L524.9,23.8 L527.1,24.2 L529.3,24.3 L531.5,24.7 L533.7,24.8 L536.0,24.8 L538.2,24.4 L540.4,25.0 L542.5,25.8 L544.7,26.2 L546.9,26.1 L549.1,26.3 L551.3,26.4 L553.5,26.5 L555.6,26.7 L557.7,27.5 L559.7,28.4 L561.8,28.9 L564.1,28.8 L566.3,28.9 L568.5,28.8 L570.7,29.0 L573.0,29.0 L575.1,29.9 L577.2,30.5 L579.4,30.7 L581.6,30.7 L583.8,30.8 L586.0,31.2 L588.2,31.6 L590.4,31.9 L592.6,32.1 L594.8,32.6 L596.9,33.2 L599.0,33.7 L601.3,34.0 L603.4,34.7 L605.4,35.6 L607.5,36.2 L609.7,36.6 L611.9,37.0 L614.0,37.9 L616.1,38.6 L618.3,39.0 L620.4,39.4 L622.5,40.3 L624.6,41.1 L626.8,41.2 L629.1,41.1 L631.3,41.0 L633.5,41.7 L635.4,42.9 L637.3,44.1 L639.3,45.2 L641.2,46.3 L643.0,47.5 L644.5,49.1 L645.9,50.7 L647.5,52.3 L648.6,54.3 L649.9,56.1 L651.7,57.5 L653.4,58.9 L655.1,60.3 L656.6,62.0 L658.4,63.3 L660.1,64.8 L661.6,66.4 L662.8,68.3 L663.8,70.3 L664.2,72.5 L665.0,74.6 L666.0,76.6 L666.9,78.6 L667.6,80.7 L668.3,82.8 L669.0,84.9 L669.6,87.0 L670.1,89.2 L670.4,91.4 L671.0,93.5 L671.7,95.7 L671.9,97.9 L671.9,100.1 L672.5,102.3 L673.0,104.4 L673.3,106.6 L673.3,108.9 L673.8,111.0 L674.3,113.2 L674.6,115.4 L674.9,117.6 L675.1,119.8 L675.6,122.0 L675.6,124.2 L675.7,126.4 L675.6,128.6 L675.6,130.8 L675.7,133.1 L676.2,135.2 L676.5,137.5 L676.4,139.7 L676.0,141.9 L675.8,144.1 L676.0,146.3 L676.3,148.5 L676.8,150.7 L676.9,153.0 L676.8,155.2 L676.8,157.4 L676.9,159.6" stroke="#a3786f" stroke-width="1.85"/>
<path d="M381.1,17.7 L383.3,17.7 L385.5,17.4 L387.8,17.9 L390.0,17.9 L392.2,17.9 L394.4,17.9 L396.7,17.9 L398.9,17.8 L401.1,18.0 L403.3,18.0 L405.6,17.6 L407.8,17.4 L410.0,17.7 L412.2,17.6 L414.5,17.3 L416.7,17.6 L418.9,18.1 L421.1,18.4 L423.3,18.0 L425.6,17.7 L427.8,17.9 L430.0,18.4 L432.2,18.3 L434.5,18.1 L436.7,18.0 L438.9,18.3 L441.1,18.0 L443.4,17.9 L445.6,17.8 L447.8,17.9 L450.0,18.1 L452.2,18.4 L454.5,18.6 L456.7,18.8 L458.9,18.7 L461.1,18.4 L463.4,18.5 L465.6,18.7 L467.8,18.7 L470.0,18.4 L472.3,18.3 L474.5,18.4 L476.7,18.8 L478.9,19.1 L481.1,19.2 L483.3,19.2 L485.6,19.1 L487.8,19.0 L490.0,18.7 L492.3,18.8 L494.5,19.1 L496.7,19.2 L498.9,19.4 L501.1,20.0 L503.3,20.3 L505.6,20.0 L507.8,20.0 L510.0,20.4 L512.2,20.4 L514.4,20.4 L516.7,20.3 L518.9,20.6 L521.1,20.5 L523.3,20.4 L525.6,20.4 L527.8,20.6 L530.0,20.6 L532.2,20.5 L534.5,20.8 L536.7,21.0 L538.9,20.6 L541.1,20.4 L543.3,20.8 L545.6,21.0 L547.8,21.2 L550.0,21.3 L552.2,21.5 L554.5,21.0 L556.7,20.5 L558.9,20.6 L561.1,21.3 L563.3,21.8 L565.5,21.9 L567.8,21.8 L570.0,21.8 L572.0,22.8 L574.1,23.5 L576.3,23.5 L578.5,23.2 L580.8,23.4 L583.0,23.7 L585.2,23.9 L587.4,23.9 L589.6,24.2 L591.8,24.8 L594.0,25.1 L596.3,24.8 L598.5,24.8 L600.7,25.0 L602.9,25.5 L605.1,25.9 L607.3,26.4 L609.4,27.0 L611.6,27.5 L613.8,27.6 L616.1,27.5 L618.3,27.8 L620.5,28.1 L622.7,28.4 L624.9,28.7 L627.1,29.2 L629.2,30.0 L631.2,30.9 L633.2,32.0 L635.1,33.1 L637.1,34.1 L639.1,35.2 L640.6,36.8 L642.4,38.2 L644.1,39.6 L645.8,41.0 L647.4,42.5 L649.0,44.0 L650.4,45.8 L652.0,47.3 L653.7,48.8 L655.1,50.6 L656.2,52.5 L657.5,54.3 L658.7,56.1 L659.7,58.1 L660.7,60.1 L661.8,62.0 L663.1,63.8 L664.1,65.8 L665.7,67.4 L667.3,69.1 L667.8,71.3 L667.7,73.6 L668.1,75.8 L668.8,77.9 L669.6,80.0 L669.9,82.2 L670.0,84.5 L670.0,86.7 L670.6,88.9 L671.1,91.1 L671.7,93.2 L672.2,95.4 L672.7,97.5 L673.1,99.7 L673.6,101.9 L673.6,104.1 L673.4,106.4 L673.3,108.7 L673.7,110.9 L674.3,113.0 L674.8,115.2 L675.0,117.4 L675.2,119.6 L675.3,121.8 L675.2,124.1 L675.0,126.3 L675.5,128.5 L675.9,130.7 L676.3,132.9 L676.4,135.1 L676.4,137.4 L676.1,139.6 L675.8,141.8 L676.0,144.1 L676.3,146.3 L676.4,148.5 L676.6,150.7 L676.8,152.9 L677.1,155.1 L676.8,157.4 L676.9,159.6" stroke="#999999" stroke-width="1.85"/>
<path d="M381.1,17.7 L383.3,17.7 L385.5,17.4 L387.7,17.8 L390.0,17.9 L392.2,17.4 L394.4,17.4 L396.6,17.9 L398.8,18.2 L401.0,18.2 L403.2,18.1 L405.5,17.9 L407.7,17.6 L409.9,17.5 L412.1,17.8 L414.3,18.0 L416.5,18.0 L418.7,17.9 L421.0,17.8 L423.2,17.6 L425.4,17.8 L427.6,18.0 L429.8,18.1 L432.0,17.7 L434.2,17.6 L436.5,17.5 L438.7,17.7 L440.9,17.9 L443.1,18.3 L445.3,18.4 L447.5,18.2 L449.7,17.8 L451.9,17.8 L454.2,17.8 L456.4,18.0 L458.6,17.8 L460.8,17.8 L463.0,17.7 L465.2,17.9 L467.4,18.1 L469.7,18.1 L471.9,18.1 L474.1,18.3 L476.3,18.3 L478.5,18.1 L480.7,18.0 L482.9,18.2 L485.1,18.5 L487.3,18.7 L489.6,18.6 L491.7,19.3 L493.9,19.7 L496.1,19.7 L498.3,19.6 L500.5,20.2 L502.7,20.7 L504.9,20.7 L507.1,20.6 L509.3,20.9 L511.5,21.3 L513.7,21.3 L516.0,21.5 L518.1,22.1 L520.3,22.2 L522.6,22.0 L524.8,22.0 L527.0,22.4 L529.2,22.4 L531.4,22.3 L533.6,22.3 L535.9,22.3 L538.1,22.2 L540.3,22.3 L542.5,22.6 L544.7,22.6 L546.9,22.4 L549.1,22.8 L551.3,23.1 L553.6,23.0 L555.8,23.0 L558.0,23.6 L560.1,24.1 L562.4,24.1 L564.6,24.2 L566.8,24.3 L569.0,24.6 L571.2,24.4 L573.4,24.8 L575.6,25.1 L577.8,25.6 L580.0,25.6 L582.2,25.6 L584.4,26.1 L586.6,26.3 L588.8,26.8 L591.0,26.8 L593.2,27.1 L595.4,27.4 L597.5,28.0 L599.7,28.2 L601.9,28.4 L604.1,28.7 L606.3,29.1 L608.5,29.4 L610.7,30.0 L612.8,30.8 L614.8,31.6 L616.9,32.3 L619.0,33.2 L621.2,33.5 L623.4,33.9 L625.5,34.4 L627.5,35.5 L629.5,36.6 L631.5,37.5 L633.6,38.1 L635.7,38.9 L637.8,39.5 L639.9,40.2 L642.1,40.8 L643.8,42.1 L645.4,43.6 L647.0,45.1 L648.8,46.4 L650.4,48.0 L651.8,49.8 L652.9,51.6 L654.3,53.4 L655.4,55.3 L656.9,57.0 L658.2,58.8 L659.7,60.4 L661.0,62.2 L662.1,64.2 L663.0,66.2 L664.1,68.1 L665.5,69.9 L666.5,71.9 L667.2,74.0 L667.7,76.2 L668.0,78.4 L668.6,80.5 L669.0,82.7 L669.5,84.9 L670.0,87.0 L671.0,89.1 L671.3,91.3 L671.6,93.5 L671.8,95.7 L672.5,97.8 L673.0,100.0 L673.1,102.2 L673.2,104.4 L673.4,106.6 L673.7,108.8 L673.7,111.1 L673.9,113.2 L674.7,115.4 L674.8,117.6 L675.1,119.8 L675.1,122.0 L675.3,124.2 L675.1,126.5 L675.4,128.7 L675.5,130.9 L675.8,133.1 L675.9,135.3 L676.3,137.5 L676.7,139.7 L676.7,141.9 L676.5,144.1 L676.5,146.3 L677.0,148.5 L677.0,150.7 L677.0,152.9 L676.8,155.2 L676.8,157.4 L676.9,159.6" stroke="#45cbd9" stroke-width="1.85"/>
<path d="M381.1,17.7 L409.7,18.0 L440.1,18.7 L474.7,19.5 L492.3,20.8 L519.7,22.3 L537.2,22.9 L554.8,23.8 L572.3,25.3 L584.0,27.1 L599.7,29.4 L612.2,32.6 L624.6,36.3 L637.1,41.9 L645.8,47.5 L652.9,55.1 L659.9,62.9 L664.6,70.7 L667.0,78.5 L669.3,86.3 L671.6,95.6 L673.2,104.9 L674.7,115.1 L676.0,132.7 L676.9,159.6" stroke="#1212f4" stroke-width="2.4"/>
</g>
<line x1="377.9" y1="15.0" x2="680.9" y2="15.0" stroke="#8c8c8c" stroke-width="1.1"/>
<line x1="377.9" y1="308.6" x2="680.9" y2="308.6" stroke="#9c9c9c" stroke-width="1.15"/>
<line x1="378.4" y1="15.0" x2="378.4" y2="308.6" stroke="#727272" stroke-width="1.1"/>
<line x1="680.4" y1="15.0" x2="680.4" y2="308.6" stroke="#777" stroke-width="1.1"/>
<line x1="381.1" y1="308.6" x2="381.1" y2="310.40000000000003" stroke="#2a2a2a" stroke-width="0.8"/>
<line x1="376.59999999999997" y1="305.6" x2="378.4" y2="305.6" stroke="#2a2a2a" stroke-width="0.8"/>
<text x="380.8" y="319.7" text-anchor="middle" font-family="DejaVu Sans, Liberation Sans, sans-serif" font-size="8.5" fill="#262626">0.0</text>
<text x="373.79999999999995" y="309.3" text-anchor="end" font-family="DejaVu Sans, Liberation Sans, sans-serif" font-size="8.5" fill="#262626">0.0</text>
<line x1="440.3" y1="308.6" x2="440.3" y2="310.40000000000003" stroke="#2a2a2a" stroke-width="0.8"/>
<line x1="376.59999999999997" y1="248.1" x2="378.4" y2="248.1" stroke="#2a2a2a" stroke-width="0.8"/>
<text x="440.0" y="319.7" text-anchor="middle" font-family="DejaVu Sans, Liberation Sans, sans-serif" font-size="8.5" fill="#262626">0.2</text>
<text x="373.79999999999995" y="251.8" text-anchor="end" font-family="DejaVu Sans, Liberation Sans, sans-serif" font-size="8.5" fill="#262626">0.2</text>
<line x1="499.5" y1="308.6" x2="499.5" y2="310.40000000000003" stroke="#2a2a2a" stroke-width="0.8"/>
<line x1="376.59999999999997" y1="190.7" x2="378.4" y2="190.7" stroke="#2a2a2a" stroke-width="0.8"/>
<text x="499.2" y="319.7" text-anchor="middle" font-family="DejaVu Sans, Liberation Sans, sans-serif" font-size="8.5" fill="#262626">0.4</text>
<text x="373.79999999999995" y="194.4" text-anchor="end" font-family="DejaVu Sans, Liberation Sans, sans-serif" font-size="8.5" fill="#262626">0.4</text>
<line x1="558.7" y1="308.6" x2="558.7" y2="310.40000000000003" stroke="#2a2a2a" stroke-width="0.8"/>
<line x1="376.59999999999997" y1="133.2" x2="378.4" y2="133.2" stroke="#2a2a2a" stroke-width="0.8"/>
<text x="558.4" y="319.7" text-anchor="middle" font-family="DejaVu Sans, Liberation Sans, sans-serif" font-size="8.5" fill="#262626">0.6</text>
<text x="373.79999999999995" y="136.9" text-anchor="end" font-family="DejaVu Sans, Liberation Sans, sans-serif" font-size="8.5" fill="#262626">0.6</text>
<line x1="617.9" y1="308.6" x2="617.9" y2="310.40000000000003" stroke="#2a2a2a" stroke-width="0.8"/>
<line x1="376.59999999999997" y1="75.7" x2="378.4" y2="75.7" stroke="#2a2a2a" stroke-width="0.8"/>
<text x="617.6" y="319.7" text-anchor="middle" font-family="DejaVu Sans, Liberation Sans, sans-serif" font-size="8.5" fill="#262626">0.8</text>
<text x="373.79999999999995" y="79.4" text-anchor="end" font-family="DejaVu Sans, Liberation Sans, sans-serif" font-size="8.5" fill="#262626">0.8</text>
<line x1="677.1" y1="308.6" x2="677.1" y2="310.40000000000003" stroke="#2a2a2a" stroke-width="0.8"/>
<line x1="376.59999999999997" y1="18.2" x2="378.4" y2="18.2" stroke="#2a2a2a" stroke-width="0.8"/>
<text x="676.8" y="319.7" text-anchor="middle" font-family="DejaVu Sans, Liberation Sans, sans-serif" font-size="8.5" fill="#262626">1.0</text>
<text x="373.79999999999995" y="21.9" text-anchor="end" font-family="DejaVu Sans, Liberation Sans, sans-serif" font-size="8.5" fill="#262626">1.0</text>
<text x="529.2" y="11.8" text-anchor="middle" font-family="DejaVu Sans, Liberation Sans, sans-serif" font-size="13.56" fill="#1c1c1c" style="stroke:#1c1c1c;stroke-width:0.22px">Cross-Validation PRC of COMRAN</text>
<text x="529.0" y="330.5" text-anchor="middle" font-family="DejaVu Sans, Liberation Sans, sans-serif" font-size="9.85" fill="#262626">Recall (Sensitivity)</text>
<text transform="translate(355.8,162.7) rotate(-90)" text-anchor="middle" font-family="DejaVu Sans, Liberation Sans, sans-serif" font-size="9.8" fill="#262626">Precision (PPV)</text>
<rect x="161.7" y="214.6" width="167.9" height="89.4" rx="1.6" fill="#fff" fill-opacity="0.8" stroke="#d8d8d8" stroke-width="0.8"/>
<line x1="163.7" y1="221.9" x2="182.0" y2="221.9" stroke="#4c92c3" stroke-width="2.1"/>
<text x="188.0" y="225.3" font-family="DejaVu Sans, Liberation Sans, sans-serif" font-size="8.1" fill="#262626">ROC fold 1 (AUC = 0.955)</text>
<line x1="163.7" y1="234.0" x2="182.0" y2="234.0" stroke="#56b356" stroke-width="2.1"/>
<text x="188.0" y="237.4" font-family="DejaVu Sans, Liberation Sans, sans-serif" font-size="8.1" fill="#262626">ROC fold 2 (AUC = 0.962)</text>
<line x1="163.7" y1="246.2" x2="182.0" y2="246.2" stroke="#a3786f" stroke-width="2.1"/>
<text x="188.0" y="249.6" font-family="DejaVu Sans, Liberation Sans, sans-serif" font-size="8.1" fill="#262626">ROC fold 3 (AUC = 0.955)</text>
<line x1="163.7" y1="258.4" x2="182.0" y2="258.4" stroke="#999999" stroke-width="2.1"/>
<text x="188.0" y="261.8" font-family="DejaVu Sans, Liberation Sans, sans-serif" font-size="8.1" fill="#262626">ROC fold 4 (AUC = 0.967)</text>
<line x1="163.7" y1="270.6" x2="182.0" y2="270.6" stroke="#45cbd9" stroke-width="2.1"/>
<text x="188.0" y="274.0" font-family="DejaVu Sans, Liberation Sans, sans-serif" font-size="8.1" fill="#262626">ROC fold 5 (AUC = 0.958)</text>
<line x1="163.7" y1="283.2" x2="182.0" y2="283.2" stroke="#2a2aff" stroke-width="2.1"/>
<text x="188.0" y="286.6" font-family="DejaVu Sans, Liberation Sans, sans-serif" font-size="8.1" fill="#262626">Mean ROC (AUC = 0.958 ± 0.005)</text>
<rect x="164.9" y="294.0" width="16.0" height="5.8" fill="#bdbdbd" stroke="#bdbdbd" stroke-width="0.6"/>
<text x="188.0" y="299.7" font-family="DejaVu Sans, Liberation Sans, sans-serif" font-size="8.1" fill="#262626">± 1 std. dev.</text>
<rect x="505.3" y="216.5" width="170.7" height="87.9" rx="1.6" fill="#fff" fill-opacity="0.8" stroke="#d8d8d8" stroke-width="0.8"/>
<line x1="507.3" y1="223.6" x2="526.0" y2="223.6" stroke="#4c92c3" stroke-width="2.1"/>
<text x="531.7" y="227.0" font-family="DejaVu Sans, Liberation Sans, sans-serif" font-size="8.1" fill="#262626">PRC fold 1 (AUPR = 0.958)</text>
<line x1="507.3" y1="235.8" x2="526.0" y2="235.8" stroke="#56b356" stroke-width="2.1"/>
<text x="531.7" y="239.2" font-family="DejaVu Sans, Liberation Sans, sans-serif" font-size="8.1" fill="#262626">PRC fold 2 (AUPR = 0.964)</text>
<line x1="507.3" y1="248.0" x2="526.0" y2="248.0" stroke="#a3786f" stroke-width="2.1"/>
<text x="531.7" y="251.4" font-family="DejaVu Sans, Liberation Sans, sans-serif" font-size="8.1" fill="#262626">PRC fold 3 (AUPR = 0.954)</text>
<line x1="507.3" y1="260.1" x2="526.0" y2="260.1" stroke="#999999" stroke-width="2.1"/>
<text x="531.7" y="263.5" font-family="DejaVu Sans, Liberation Sans, sans-serif" font-size="8.1" fill="#262626">PRC fold 4 (AUPR = 0.969)</text>
<line x1="507.3" y1="272.2" x2="526.0" y2="272.2" stroke="#45cbd9" stroke-width="2.1"/>
<text x="531.7" y="275.6" font-family="DejaVu Sans, Liberation Sans, sans-serif" font-size="8.1" fill="#262626">PRC fold 5 (AUPR = 0.962)</text>
<line x1="507.3" y1="284.7" x2="526.0" y2="284.7" stroke="#2a2aff" stroke-width="2.1"/>
<text x="531.7" y="288.1" font-family="DejaVu Sans, Liberation Sans, sans-serif" font-size="8.1" fill="#262626">Mean PRC (AUPR = 0.961 ± 0.007)</text>
<rect x="508.5" y="294.1" width="16.4" height="5.8" fill="#dcdcdc" stroke="#b8b8b8" stroke-width="0.6"/>
<text x="531.7" y="299.8" font-family="DejaVu Sans, Liberation Sans, sans-serif" font-size="8.1" fill="#262626">± 1 std. dev.</text>
<text transform="translate(181.4,383.5) scale(0.91,1)" text-anchor="middle" font-family="Liberation Serif, serif" font-size="33" fill="#111" style="stroke:#111;stroke-width:0.12px">A</text>
<text transform="translate(526.4,383.9) scale(0.94,1)" text-anchor="middle" font-family="Liberation Serif, serif" font-size="33" fill="#111" style="stroke:#111;stroke-width:0.12px">B</text>
</svg>
</body></html>
